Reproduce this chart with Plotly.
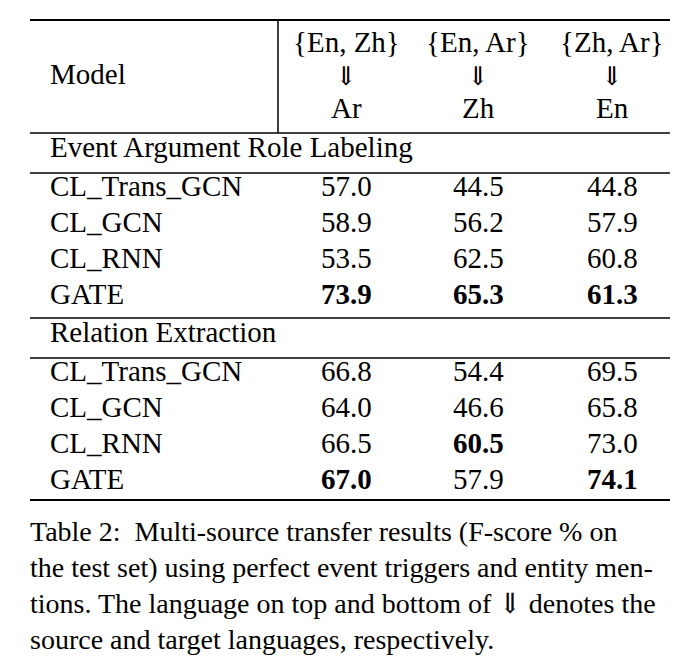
import plotly.graph_objects as go

# table contents
sources = ["{En, Zh}", "{En, Ar}", "{Zh, Ar}"]
targets = ["Ar", "Zh", "En"]
models = ["CL_Trans_GCN", "CL_GCN", "CL_RNN", "GATE"]
earl_scores = [[57.0, 44.5, 44.8], [58.9, 56.2, 57.9], [53.5, 62.5, 60.8], [73.9, 65.3, 61.3]]
re_scores = [[66.8, 54.4, 69.5], [64.0, 46.6, 65.8], [66.5, 60.5, 73.0], [67.0, 57.9, 74.1]]
sections = ["Event Argument Role Labeling", "Relation Extraction"]
caption = [
    "Table 2:  Multi-source transfer results (F-score % on",
    "the test set) using perfect event triggers and entity men-",
    "tions. The language on top and bottom of ⇓ denotes the",
    "source and target languages, respectively.",
]

W, H = 696, 667
col_x = [338, 470, 604]
font = dict(family="Liberation Serif, Times New Roman, DejaVu Serif, serif", size=29, color="black")
DY = -6  # baseline correction

fig = go.Figure()
fig.add_trace(go.Scatter(x=[0, W], y=[0, H], mode="markers", marker=dict(opacity=0), hoverinfo="skip"))


def text(x, y, s, anchor="center", bold=False, size=29):
    if bold:
        s = f"<b>{s}</b>"
    fig.add_annotation(x=x, y=y + DY, text=s, showarrow=False, xanchor=anchor, yanchor="middle",
                       font=dict(font, size=size))


def hline(y, w=1.5):
    fig.add_shape(type="line", x0=22, x1=662, y0=y, y1=y, line=dict(color="black", width=w))


# header
hline(12, 2)
fig.add_shape(type="line", x0=270, x1=270, y0=12, y1=125, line=dict(color="black", width=1.5))
text(40, 72, "Model", anchor="left")
for x, s, t in zip(col_x, sources, targets):
    text(x, 40, s)
    text(x, 74, "⇓", size=26)
    text(x, 106, t)
hline(125)


def block(y0, title, scores):
    text(40, y0, title, anchor="left")
    hline(y0 + 20)
    best = [max(r[j] for r in scores) for j in range(3)]
    for i, (m, row) in enumerate(zip(models, scores)):
        y = y0 + 39 + i * 36
        text(40, y, m, anchor="left")
        for j, v in enumerate(row):
            text(col_x[j], y, f"{v:.1f}", bold=(v == best[j]))


block(145, sections[0], earl_scores)
hline(310)
block(330, sections[1], re_scores)
hline(492, 2)

for i, line in enumerate(caption):
    text(20, 529 + i * 36, line, anchor="left", size=28)

fig.update_xaxes(range=[0, W], visible=False, fixedrange=True)
fig.update_yaxes(range=[H, 0], visible=False, fixedrange=True)
fig.update_layout(width=W, height=H, margin=dict(l=0, r=0, t=0, b=0),
                  plot_bgcolor="white", paper_bgcolor="white", showlegend=False)
fig.write_html("out.html")
